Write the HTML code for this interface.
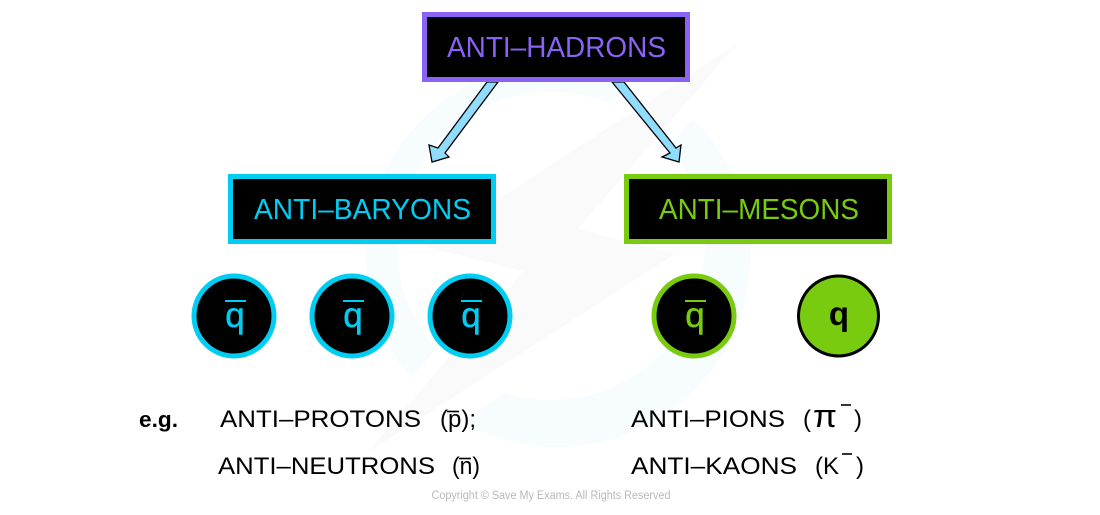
<!DOCTYPE html>
<html>
<head>
<meta charset="utf-8">
<style>
html,body{margin:0;padding:0;background:#fff;width:1100px;height:515px;overflow:hidden}
svg{display:block}
text{font-family:"Liberation Sans",sans-serif}
</style>
</head>
<body>
<svg width="1100" height="515" viewBox="0 0 1100 515" xmlns="http://www.w3.org/2000/svg">
  <rect width="1100" height="515" fill="#fff"/>
  <!-- watermark ring -->
  <path fill-rule="evenodd" fill="#f7fcff" d="M366,255a192,192 0 1,0 384,0a192,192 0 1,0 -384,0Z M397,246a154,154 0 1,0 308,0a154,154 0 1,0 -308,0Z"/>
  <!-- gaps in the ring on either side of the bolt -->
  <polygon points="407,383 470,310 560,360 497,398 430,445 350,475 370,420" fill="#fff"/>
  <polygon points="607,103 680,55 770,25 693,118 640,180 590,130" fill="#fff"/>
  <!-- watermark bolt -->
  <polygon points="738,43 578,229 675,254 367,453 523,271 425,247" fill="#fafafa"/>

  <!-- arrows -->
  <polygon points="487,82 438,148 429,145 432,162 449,157 445,153 498,82" fill="#8fdcff" stroke="#000" stroke-width="1.300"/>
  <polygon points="612,82 670,153 662,157 679,162 681,145 676,148 624,82" fill="#8fdcff" stroke="#000" stroke-width="1.300"/>

  <!-- boxes -->
  <rect x="424.500" y="14.500" width="263" height="65" fill="#000" stroke="#8a63f5" stroke-width="5"/>
  <text x="447" y="57" font-size="29" fill="#8a63f5" textLength="219" lengthAdjust="spacingAndGlyphs">ANTI–HADRONS</text>

  <rect x="230.500" y="176.500" width="263" height="65" fill="#000" stroke="#00cdf2" stroke-width="5"/>
  <text x="254" y="219" font-size="29" fill="#00cdf2" textLength="217" lengthAdjust="spacingAndGlyphs">ANTI–BARYONS</text>

  <rect x="626.500" y="176.500" width="263" height="65" fill="#000" stroke="#78cb0e" stroke-width="5"/>
  <text x="659" y="219" font-size="29" fill="#78cb0e" textLength="200" lengthAdjust="spacingAndGlyphs">ANTI–MESONS</text>

  <!-- quark circles -->
  <g stroke="#00cdf2" stroke-width="5" fill="#000">
    <circle cx="234" cy="316" r="40"/>
    <circle cx="352" cy="316" r="40"/>
    <circle cx="470" cy="316" r="40"/>
  </g>
  <circle cx="694" cy="316" r="40" fill="#000" stroke="#78cb0e" stroke-width="5"/>
  <circle cx="838.500" cy="316" r="40" fill="#78cb0e" stroke="#000" stroke-width="3"/>

  <g font-size="35" text-anchor="middle" fill="#00cdf2" stroke="#00cdf2" stroke-width="0.500">
    <text x="235" y="327">q</text>
    <text x="353" y="327">q</text>
    <text x="471" y="327">q</text>
  </g>
  <g stroke="#00cdf2" stroke-width="2">
    <line x1="225" y1="301" x2="246" y2="301"/>
    <line x1="343" y1="301" x2="364" y2="301"/>
    <line x1="461" y1="301" x2="482" y2="301"/>
  </g>
  <text x="695" y="327" font-size="35" text-anchor="middle" fill="#78cb0e" stroke="#78cb0e" stroke-width="0.500">q</text>
  <line x1="685" y1="301" x2="706" y2="301" stroke="#78cb0e" stroke-width="2"/>
  <text x="839" y="325" font-size="33" font-weight="bold" text-anchor="middle" fill="#000">q</text>

  <!-- lower labels -->
  <g font-size="24" fill="#000">
    <text x="139" y="427" font-size="22" font-weight="bold" textLength="39" lengthAdjust="spacingAndGlyphs">e.g.</text>
    <text x="220" y="427" textLength="201" lengthAdjust="spacingAndGlyphs">ANTI–PROTONS</text>
    <text x="440" y="427" textLength="36" lengthAdjust="spacingAndGlyphs">(p);</text>
    <text x="218" y="474" textLength="217" lengthAdjust="spacingAndGlyphs">ANTI–NEUTRONS</text>
    <text x="452" y="474" textLength="28" lengthAdjust="spacingAndGlyphs">(n)</text>
    <text x="631" y="427" textLength="154" lengthAdjust="spacingAndGlyphs">ANTI–PIONS</text>
    <text x="803" y="427">(</text>
    <text x="813" y="427" font-size="32" textLength="24" lengthAdjust="spacingAndGlyphs">π</text>
    <text x="854" y="427">)</text>
    <text x="631" y="474" textLength="166" lengthAdjust="spacingAndGlyphs">ANTI–KAONS</text>
    <text x="815" y="474">(K</text>
    <text x="856" y="474">)</text>
  </g>
  <g stroke="#000" stroke-width="1.600">
    <line x1="447" y1="411.500" x2="459" y2="411.500"/>
    <line x1="459" y1="458.500" x2="471" y2="458.500"/>
    <line x1="841" y1="405" x2="851" y2="405"/>
    <line x1="842" y1="454" x2="852" y2="454"/>
  </g>

  <text x="551" y="499" font-size="11.500" fill="#b9b9b9" text-anchor="middle" textLength="239" lengthAdjust="spacingAndGlyphs">Copyright © Save My Exams. All Rights Reserved</text>
</svg>
</body>
</html>
